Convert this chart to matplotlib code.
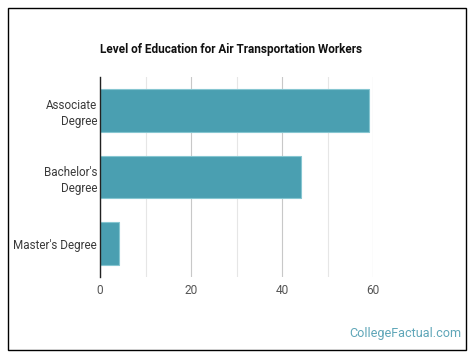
"""
Level of Education for Air Transportation Workers (horizontal bar chart)
"""

import matplotlib
matplotlib.use('Agg')
import matplotlib.pyplot as plt
from matplotlib.patches import Rectangle

#---------------------------------------------------------------------------------------------------
# Input Parameters
#---------------------------------------------------------------------------------------------------

categories = ['Associate\nDegree', "Bachelor's\nDegree", "Master's Degree"]
values = [59.1, 44.2, 4.2]
xticks = [0, 20, 40, 60]
minor_xticks = [10, 30, 50]

title = 'Level of Education for Air Transportation Workers'
watermark = 'CollegeFactual.com'
out_fname = 'out.png'

#---------------------------------------------------------------------------------------------------
# Main Program
#---------------------------------------------------------------------------------------------------

plt.rcParams['font.family'] = ['Roboto', 'DejaVu Sans']

W, H = 476, 357
fig = plt.figure(figsize=(W / 100, H / 100), dpi=100)
fig.patch.set_facecolor('white')

# Outer border
fig.patches.append(Rectangle((8 / W, 1 - 350 / H), 458 / W, 342 / H, transform=fig.transFigure,
                             fill=False, edgecolor='black', lw=1.0))

# Axes: x 100..373 px, y 77..277 px
ax = fig.add_axes([100 / W, 1 - 277 / H, 273 / W, 200 / H])
ypos = list(range(len(categories)))
ax.barh(ypos, values, height=0.64, color='#4a9fb1', edgecolor='#86c6d1', lw=0.8, zorder=3)
ax.set_ylim(2.5, -0.5)
ax.set_xlim(0, 60)

ax.set_yticks(ypos)
ax.set_yticklabels(categories, fontsize=8.4, color='#3a3a3a', linespacing=1.35)
ax.set_xticks(xticks)
ax.set_xticklabels([str(t) for t in xticks], fontsize=8.6, color='#555555')
ax.set_xticks(minor_xticks, minor=True)
ax.tick_params(axis='both', which='both', length=0)
ax.tick_params(axis='x', pad=5)
ax.tick_params(axis='y', pad=2)

ax.grid(axis='x', which='major', color='#c8c8c8', lw=0.8, zorder=0)
ax.grid(axis='x', which='minor', color='#e6e6e6', lw=0.8, zorder=0)
for s in ['top', 'right', 'bottom']:
    ax.spines[s].set_visible(False)
ax.spines['left'].set_color('#222222')
ax.spines['left'].set_linewidth(1.0)
ax.spines['left'].set_zorder(4)

fig.text(231 / W, 1 - 50 / H, title, ha='center', va='center', fontsize=8.5, weight='bold',
         color='#111111')
fig.text(461 / W, 1 - 334 / H, watermark, ha='right', va='center', fontsize=9.1,
         color='#5fa6b8')

plt.savefig(out_fname, dpi=100)
plt.close()
